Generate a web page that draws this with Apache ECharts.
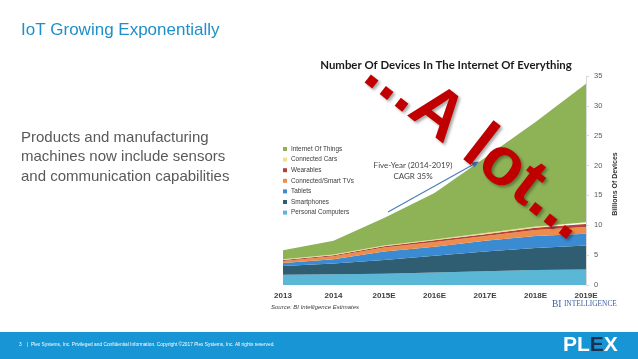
<!DOCTYPE html>
<html>
<head>
<meta charset="utf-8">
<script src="https://cdn.jsdelivr.net/npm/echarts@6/dist/echarts.min.js"></script>
<style>html,body{margin:0;padding:0;background:#fff;}#c{width:638px;height:359px;}</style>
</head>
<body>
<div id="c"></div>
<script>
const years = ['2013', '2014', '2015E', '2016E', '2017E', '2018E', '2019E'];
const personalComputers = [1.7, 1.8, 1.9, 2.1, 2.3, 2.5, 2.6];
const smartphones = [1.5, 1.8, 2.3, 2.8, 3.3, 3.7, 4.0];
const tablets = [0.5, 0.7, 1.4, 1.5, 1.8, 2.0, 2.0];
const smartTVs = [0.3, 0.5, 0.7, 0.8, 0.8, 1.0, 1.1];
const wearables = [0.2, 0.2, 0.2, 0.3, 0.3, 0.4, 0.5];
const connectedCars = [0.1, 0.1, 0.1, 0.1, 0.2, 0.2, 0.3];
const internetOfThings = [1.5, 2.3, 4.6, 7.8, 12.6, 17.5, 23.2];
const yTickMin = 0, yTickMax = 35, yTickStep = 5;

const seriesDefs = [
  { name: 'Personal Computers', data: personalComputers, color: '#5bb7d6' },
  { name: 'Smartphones', data: smartphones, color: '#2f5d71' },
  { name: 'Tablets', data: tablets, color: '#3a8bd2' },
  { name: 'Connected/Smart TVs', data: smartTVs, color: '#ee8d4b' },
  { name: 'Wearables', data: wearables, color: '#b2423a' },
  { name: 'Connected Cars', data: connectedCars, color: '#f2e08c' },
  { name: 'Internet Of Things', data: internetOfThings, color: '#8db356' }
];

const chart = echarts.init(document.getElementById('c'), null, { renderer: 'canvas' });
const sans = 'Liberation Sans, Arial, sans-serif';
const lotShadow = { textShadowColor: 'rgba(0,0,0,0.35)', textShadowBlur: 3, textShadowOffsetX: 2, textShadowOffsetY: 2 };

chart.setOption({
  animation: false,
  backgroundColor: '#ffffff',
  grid: { left: 283, right: 52, top: 76, bottom: 74, containLabel: false, outerBoundsMode: 'none' },
  legend: {
    orient: 'vertical', left: 283, top: 146, padding: 0,
    itemWidth: 4, itemHeight: 4, itemGap: 4.6, icon: 'rect', selectedMode: false,
    data: seriesDefs.map(s => s.name).reverse(),
    textStyle: { fontFamily: sans, fontSize: 6.4, color: '#3a3a3a', padding: [0, 0, 0, -1] }
  },
  xAxis: {
    type: 'category', data: years, boundaryGap: false,
    axisLine: { show: false }, axisTick: { show: false },
    axisLabel: { fontFamily: sans, fontSize: 8, fontWeight: 'bold', color: '#404040', margin: 7 }
  },
  yAxis: {
    type: 'value', position: 'right', min: yTickMin, max: yTickMax, interval: yTickStep,
    splitLine: { show: false },
    axisLine: { show: true, lineStyle: { color: '#d9d9d9', width: 1 } },
    axisTick: { show: true, length: 3, lineStyle: { color: '#d9d9d9' } },
    axisLabel: { fontFamily: sans, fontSize: 7.5, color: '#595959', margin: 8 },
    name: 'Billions Of Devices', nameLocation: 'middle', nameRotate: 90, nameGap: 26,
    nameTextStyle: { fontFamily: sans, fontSize: 7, fontWeight: 'bold', color: '#333', padding: [0, 7, 0, 0] }
  },
  series: seriesDefs.map(s => ({
    name: s.name, type: 'line', stack: 'total', data: s.data,
    symbol: 'none', smooth: false, color: s.color,
    lineStyle: { width: 0 }, areaStyle: { color: s.color, opacity: 1 },
    itemStyle: { color: s.color }
  })),
  graphic: [
    { type: 'text', left: 21, top: 22, style: { text: 'IoT Growing Exponentially', font: '17px ' + sans, fill: '#1e8fc9' } },
    { type: 'text', left: 21, top: 128, style: {
      text: 'Products and manufacturing\nmachines now include sensors\nand communication capabilities',
      font: '15px ' + sans, fill: '#595959', lineHeight: 19.5 } },
    { type: 'text', x: 446, y: 65, style: { text: 'Number Of Devices In The Internet Of Everything',
      font: 'bold 11.4px Lato, sans-serif', fill: '#1a1a1a', align: 'center', verticalAlign: 'middle' } },
    { type: 'text', x: 413, y: 171, style: { text: 'Five-Year (2014-2019)\nCAGR 35%',
      font: '8px Lato, sans-serif', fill: '#444', align: 'center', verticalAlign: 'middle', lineHeight: 11 } },
    { type: 'line', shape: { x1: 388, y1: 212, x2: 476, y2: 163 }, style: { stroke: '#4a7ebb', lineWidth: 1.2 }, z: 10 },
    { type: 'polygon', shape: { points: [[479, 161.5], [471.5, 162.5], [474.5, 167.5]] }, style: { fill: '#4a7ebb' }, z: 10 },
    { type: 'text', left: 271, top: 304, style: { text: 'Source: BI Intelligence Estimates',
      font: 'italic 6px ' + sans, fill: '#404040' } },
    { type: 'text', left: 552, top: 299, style: {
      text: '{a|BI }{b|INTELLIGENCE}',
      rich: {
        a: { fontSize: 9.5, fontFamily: 'Liberation Serif', fill: '#3d5f9e' },
        b: { fontSize: 7.4, fontFamily: 'Liberation Serif', fill: '#3d5f9e' }
      } } },
    { type: 'text', x: 477, y: 146, rotation: -0.66, z: 100, style: Object.assign({
      text: '...A lot...', font: 'bold 68px ' + sans, fill: '#c00000', align: 'center', verticalAlign: 'middle' }, lotShadow) },
    { type: 'rect', shape: { x: 0, y: 332, width: 638, height: 27 }, style: { fill: '#1795d4' }, z: 1 },
    { type: 'text', left: 19, top: 342, z: 2, style: {
      text: '3    |  Plex Systems, Inc. Privileged and Confidential Information. Copyright \u00a92017 Plex Systems, Inc. All rights reserved.',
      font: '4.8px ' + sans, fill: '#ffffff' } },
    { type: 'text', left: 563, top: 335, z: 2, style: {
      text: '{w|PL}{d|E}{w|X}',
      rich: {
        w: { fontFamily: sans, fontSize: 21, fontWeight: 'bold', fill: '#ffffff' },
        d: { fontFamily: sans, fontSize: 21, fontWeight: 'bold', fill: '#1b3350' }
      } } }
  ]
});
</script>
</body>
</html>
